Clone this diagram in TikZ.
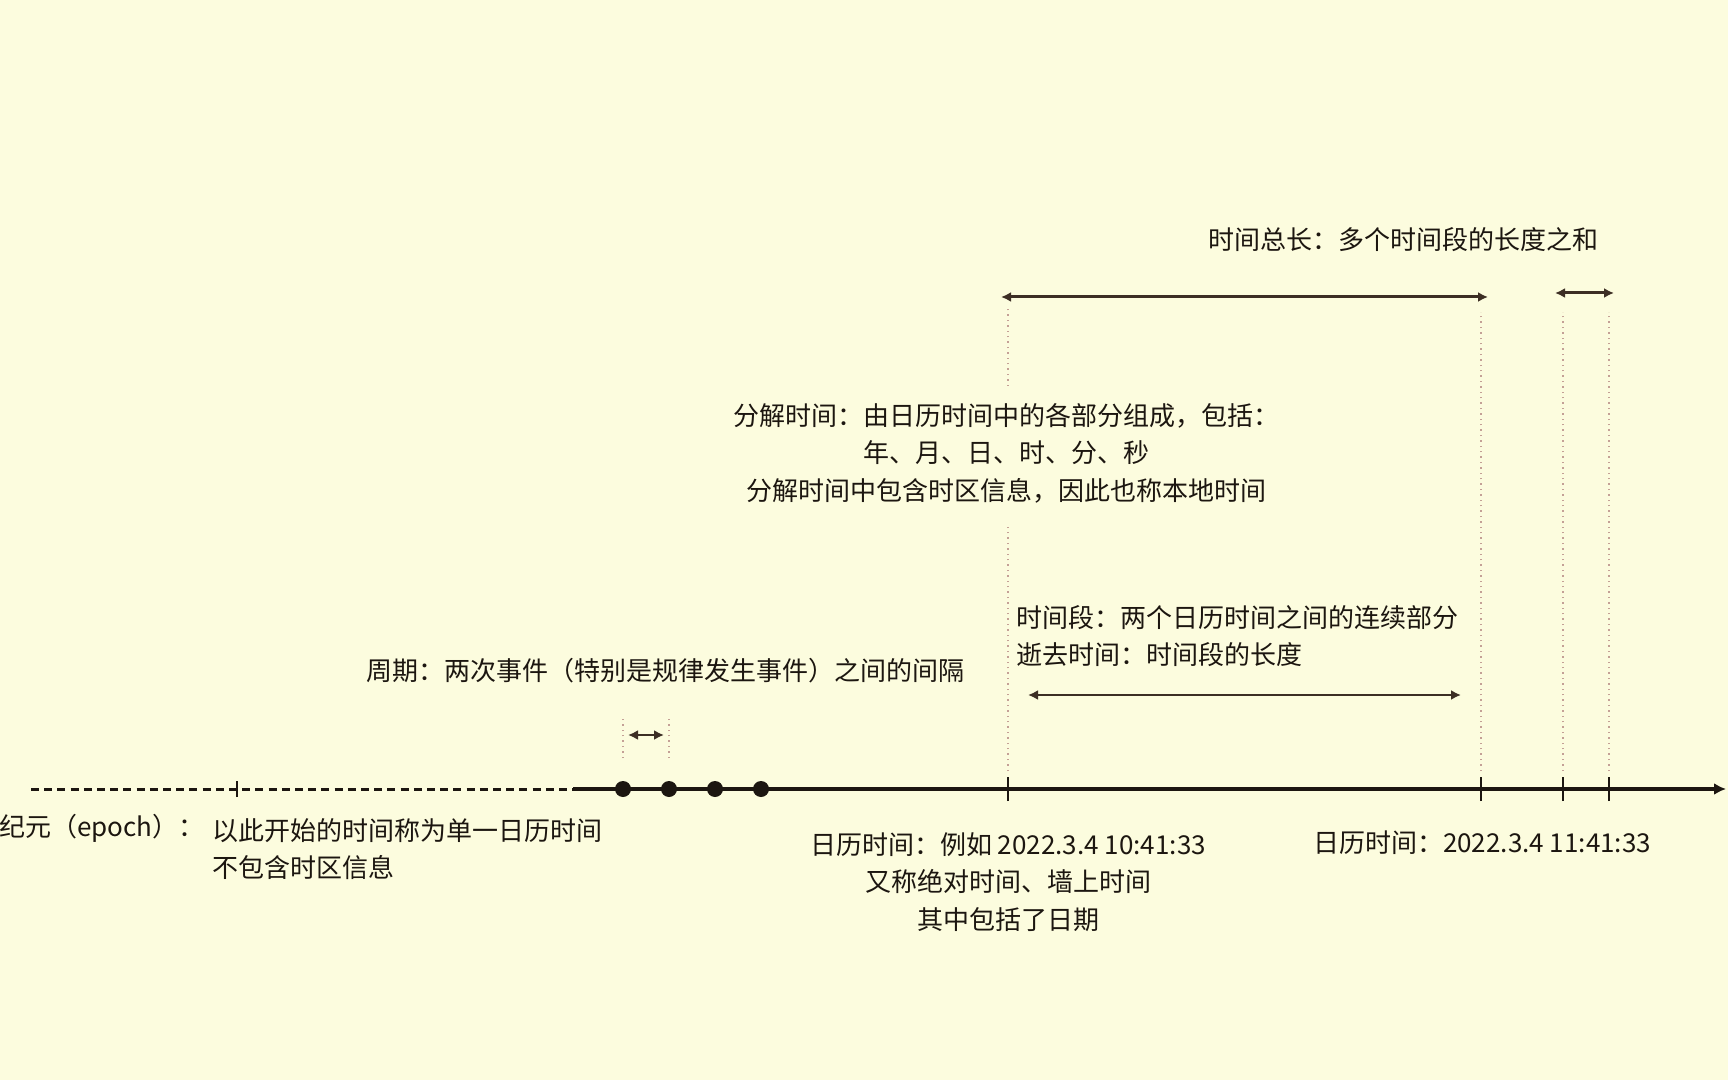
\documentclass[tikz,border=0pt]{standalone}
\usepackage{fontspec}
\setmainfont{Noto Sans CJK SC}
\usetikzlibrary{arrows.meta}
\definecolor{paper}{RGB}{252,252,222}
\definecolor{ink}{RGB}{28,22,16}
\definecolor{spanink}{RGB}{60,46,36}
\definecolor{guideink}{RGB}{196,160,150}
\begin{document}
	\begin{tikzpicture}[x=0.5pt,y=-0.5pt,
		guide/.style={dotted,line width=0.7pt,color=guideink},
		span/.style={{Latex[length=5pt,width=5pt]}-{Latex[length=5pt,width=5pt]},line width=1pt,color=spanink},
		tick/.style={line width=1.2pt,color=ink},
		lbl/.style={inner sep=0pt,text=ink,font=\fontsize{13}{18.7}\selectfont}]
		\fill[paper] (0,0) rectangle (1728,1080);
		\useasboundingbox (0,0) rectangle (1728,1080);
		\coordinate (E0) at (31,789);
		\coordinate (E1) at (573,789);
		\coordinate (E) at (1726,789);
		\coordinate (T0) at (237,789);
		\coordinate (P1) at (623,789);
		\coordinate (P2) at (669,789);
		\coordinate (P3) at (715,789);
		\coordinate (P4) at (761,789);
		\coordinate (T1) at (1008,789);
		\coordinate (T2) at (1481,789);
		\coordinate (T3) at (1563,789);
		\coordinate (T4) at (1609,789);
		\coordinate (G1a) at (1008,771);
		\coordinate (G1b) at (1008,527);
		\coordinate (G1c) at (1008,386);
		\coordinate (G1d) at (1008,306);
		\coordinate (G2a) at (1481,771);
		\coordinate (G2b) at (1481,312);
		\coordinate (G3a) at (1563,771);
		\coordinate (G3b) at (1563,312);
		\coordinate (G4a) at (1609,771);
		\coordinate (G4b) at (1609,312);
		\coordinate (Q1a) at (623,758);
		\coordinate (Q1b) at (623,716);
		\coordinate (Q2a) at (669,758);
		\coordinate (Q2b) at (669,716);
		\coordinate (A1) at (1001,297);
		\coordinate (B1) at (1488,297);
		\coordinate (A2) at (1555,293);
		\coordinate (B2) at (1614,293);
		\coordinate (A3) at (1028,695);
		\coordinate (B3) at (1461,695);
		\coordinate (A4) at (628,735);
		\coordinate (B4) at (664,735);
		\draw [line width=1.5pt,color=ink,dash pattern=on 4pt off 2.6pt] (E0) to (E1);
		\draw [line width=2pt,color=ink,-{Latex[length=6pt,width=6pt]}] (E1) to (E);
		\draw [tick] ([yshift=-4]T0) to ([yshift=4]T0);
		\draw [tick] ([yshift=-6]T1) to ([yshift=6]T1);
		\draw [tick] ([yshift=-6]T2) to ([yshift=6]T2);
		\draw [tick] ([yshift=-6]T3) to ([yshift=6]T3);
		\draw [tick] ([yshift=-6]T4) to ([yshift=6]T4);
		\fill[ink] (P1) circle (8);
		\fill[ink] (P2) circle (8);
		\fill[ink] (P3) circle (8);
		\fill[ink] (P4) circle (8);
		\draw [guide] (G1a) to (G1b);
		\draw [guide] (G1c) to (G1d);
		\draw [guide] (G2a) to (G2b);
		\draw [guide] (G3a) to (G3b);
		\draw [guide] (G4a) to (G4b);
		\draw [guide] (Q1a) to (Q1b);
		\draw [guide] (Q2a) to (Q2b);
		\draw [span,line width=1.5pt] (A1) to (B1);
		\draw [span,line width=1.5pt] (A2) to (B2);
		\draw [span] (A3) to (B3);
		\draw [span,line width=1.2pt] (A4) to (B4);
		\node[lbl,anchor=west] (total) at (1208,240) {时间总长：多个时间段的长度之和};
		\node[lbl,align=center] (broken) at (1006,453) {分解时间：由日历时间中的各部分组成，包括：\\年、月、日、时、分、秒\\分解时间中包含时区信息，因此也称本地时间};
		\node[lbl,align=left,anchor=west] (segment) at (1016,636) {时间段：两个日历时间之间的连续部分\\逝去时间：时间段的长度};
		\node[lbl,anchor=west] (period) at (366,671) {周期：两次事件（特别是规律发生事件）之间的间隔};
		\node[lbl,anchor=east] (epoch) at (205,828) {纪元（epoch）：};
		\node[lbl,align=left,anchor=north west] (epochnote) at (212,818) {以此开始的时间称为单一日历时间\\不包含时区信息};
		\node[lbl,align=center,anchor=north] (cal1) at (1008,832) {日历时间：例如 2022.3.4 10:41:33\\又称绝对时间、墙上时间\\其中包括了日期};
		\node[lbl] (cal2) at (1482,843) {日历时间：2022.3.4 11:41:33};
	\end{tikzpicture}
\end{document}
